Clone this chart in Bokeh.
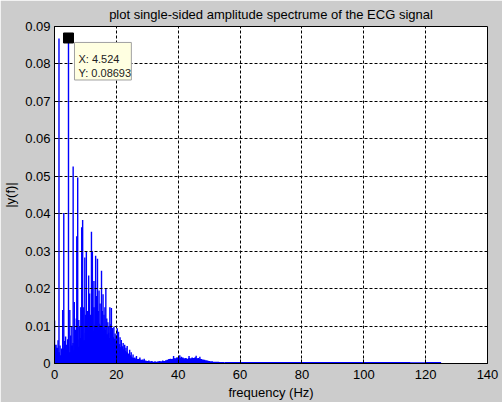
from bokeh.plotting import figure
from bokeh.models import Range1d, FixedTicker, Label, BoxAnnotation, ColumnDataSource
from bokeh.embed import file_html
from bokeh.resources import INLINE

# ---------------- data ----------------
title_text = "plot single-sided amplitude spectrume of the ECG signal"
x_label = "frequency (Hz)"
y_label = "|y(f)|"

x_ticks = [0, 20, 40, 60, 80, 100, 120, 140]
y_ticks = [0.0, 0.01, 0.02, 0.03, 0.04, 0.05, 0.06, 0.07, 0.08, 0.09]
y_tick_labels = ["0", "0.01", "0.02", "0.03", "0.04", "0.05", "0.06", "0.07", "0.08", "0.09"]

# broadband floor of the spectrum, 0.5 Hz bins, 0 .. 55 Hz
floor_freq = [0.0, 0.5, 1.0, 1.5, 2.0, 2.5, 3.0, 3.5, 4.0, 4.5,
              5.0, 5.5, 6.0, 6.5, 7.0, 7.5, 8.0, 8.5, 9.0, 9.5,
              10.0, 10.5, 11.0, 11.5, 12.0, 12.5, 13.0, 13.5, 14.0, 14.5,
              15.0, 15.5, 16.0, 16.5, 17.0, 17.5, 18.0, 18.5, 19.0, 19.5,
              20.0, 20.5, 21.0, 21.5, 22.0, 22.5, 23.0, 23.5, 24.0, 24.5,
              25.0, 25.5, 26.0, 26.5, 27.0, 27.5, 28.0, 28.5, 29.0, 29.5,
              30.0, 30.5, 31.0, 31.5, 32.0, 32.5, 33.0, 33.5, 34.0, 34.5,
              35.0, 35.5, 36.0, 36.5, 37.0, 37.5, 38.0, 38.5, 39.0, 39.5,
              40.0, 40.5, 41.0, 41.5, 42.0, 42.5, 43.0, 43.5, 44.0, 44.5,
              45.0, 45.5, 46.0, 46.5, 47.0, 47.5, 48.0, 48.5, 49.0, 49.5,
              50.0, 50.5, 51.0, 51.5, 52.0, 52.5, 53.0, 53.5, 54.0, 54.5,
              55.0]
floor_amp = [0.0115, 0.0050, 0.0042, 0.0030, 0.0022, 0.0038, 0.0040, 0.0020, 0.0035, 0.0045,
             0.0030, 0.0048, 0.0055, 0.0035, 0.0052, 0.0065, 0.0045, 0.0068, 0.0075, 0.0062,
             0.0082, 0.0088, 0.0072, 0.0092, 0.0098, 0.0088, 0.0102, 0.0108, 0.0092, 0.0106,
             0.0102, 0.0088, 0.0096, 0.0090, 0.0078, 0.0082, 0.0068, 0.0062, 0.0070, 0.0066,
             0.0058, 0.0062, 0.0052, 0.0044, 0.0046, 0.0038, 0.0034, 0.0030, 0.0027, 0.0022,
             0.0018, 0.0015, 0.0016, 0.0013, 0.0012, 0.0013, 0.0010, 0.0011, 0.0009, 0.0008,
             0.0007, 0.0008, 0.0006, 0.0007, 0.0005, 0.0006, 0.0005, 0.0006, 0.0007, 0.0006,
             0.0008, 0.0007, 0.0009, 0.0010, 0.0012, 0.0013, 0.0012, 0.0015, 0.0014, 0.0016,
             0.0017, 0.0015, 0.0018, 0.0016, 0.0014, 0.0015, 0.0013, 0.0015, 0.0014, 0.0016,
             0.0015, 0.0017, 0.0014, 0.0015, 0.0013, 0.0012, 0.0011, 0.0010, 0.0009, 0.0008,
             0.0007, 0.0006, 0.0006, 0.0005, 0.0005, 0.0005, 0.0005, 0.0004, 0.0004, 0.0004,
             0.0004]

# high-frequency tail, 55 .. 125 Hz
tail_freq = [55, 60, 65, 70, 75, 80, 85, 90, 95, 100, 105, 110, 115, 120, 125]
tail_amp = [0.00042, 0.00040, 0.00039, 0.00040, 0.00038, 0.00039, 0.00038, 0.00038,
            0.00037, 0.00038, 0.00037, 0.00037, 0.00036, 0.00037, 0.00036]

# individual spectral lines (heart-rate harmonics and other peaks)
spike_freq = [1.15, 1.45, 1.8, 2.25, 2.65, 3.0, 3.3, 3.6, 3.95, 4.25,
              4.524, 4.95, 5.25, 5.6, 6.03, 6.4, 6.75, 7.05, 7.2, 7.5,
              7.85, 8.15, 8.5, 8.8, 9.1, 9.45, 9.8, 10.05, 10.3, 10.7,
              11.05, 11.35, 11.65, 11.95, 12.25, 12.5, 12.75, 13.05, 13.3, 13.6,
              13.9, 14.15, 14.4, 14.75, 15.2, 15.45, 15.7, 16.0, 16.3, 16.6,
              16.9, 17.25, 17.55, 17.9, 18.15, 18.4, 18.8, 19.2, 19.6, 19.95,
              20.3, 20.7, 21.2, 21.6, 22.2, 22.7, 23.1, 23.5, 24.3, 24.8,
              25.4, 26.5, 27.6, 29.0, 38.5, 40.5, 43.5, 45.8, 47.0]
spike_amp = [0.0062, 0.0868, 0.0048, 0.0040, 0.0143, 0.0402, 0.0060, 0.0072, 0.0050, 0.0065,
             0.08693, 0.0143, 0.0075, 0.0100, 0.0526, 0.0164, 0.0090, 0.0120, 0.0340, 0.0497,
             0.0116, 0.0100, 0.0150, 0.0364, 0.0383, 0.0150, 0.0283, 0.0130, 0.0300, 0.0140,
             0.0235, 0.0187, 0.0130, 0.0352, 0.0300, 0.0150, 0.0220, 0.0150, 0.0288, 0.0180,
             0.0280, 0.0140, 0.0195, 0.0160, 0.0248, 0.0140, 0.0185, 0.0130, 0.0150, 0.0200,
             0.0120, 0.0110, 0.0100, 0.0150, 0.0105, 0.0148, 0.0095, 0.0098, 0.0080, 0.0075,
             0.0094, 0.0085, 0.0070, 0.0063, 0.0055, 0.0050, 0.0042, 0.0047, 0.0037, 0.0030,
             0.0024, 0.0020, 0.0016, 0.0013, 0.0020, 0.0022, 0.0020, 0.0021, 0.0018]

# data tip
tip_x = 4.524
tip_y = 0.08693
tip_lines = ["X: 4.524", "Y: 0.08693"]

# ---------------- figure ----------------
FONT = "Liberation Sans"
BLUE = "#0000FF"
GRAY = "#CCCCCC"

p = figure(width=502, height=402, output_backend="svg", toolbar_location=None,
           x_range=Range1d(0, 140), y_range=Range1d(0, 0.09),
           min_border_left=53, min_border_right=15, min_border_top=23, min_border_bottom=38,
           background_fill_color="white", border_fill_color=GRAY)

p.title.text = title_text
p.title.align = "center"
p.title.text_font = FONT
p.title.text_font_size = "13px"
p.title.text_font_style = "normal"
p.title.text_color = "black"
p.title.standoff = 9
p.title.offset = 0

p.outline_line_color = "black"
p.outline_line_alpha = 1
p.outline_line_width = 1

for ax in (p.xaxis[0], p.yaxis[0]):
    ax.axis_line_color = "black"
    ax.major_tick_in = 4
    ax.major_tick_out = 0
    ax.minor_tick_in = 0
    ax.minor_tick_out = 0
    ax.major_tick_line_color = "black"
    ax.major_label_text_font = FONT
    ax.major_label_text_font_size = "13px"
    ax.major_label_text_color = "black"
    ax.axis_label_text_font = FONT
    ax.axis_label_text_font_size = "13px"
    ax.axis_label_text_font_style = "normal"
    ax.axis_label_text_color = "black"

p.xaxis.ticker = FixedTicker(ticks=x_ticks)
p.yaxis.ticker = FixedTicker(ticks=y_ticks)
p.yaxis.major_label_overrides = {t: l for t, l in zip(y_ticks, y_tick_labels)}
p.xaxis.axis_label = x_label
p.yaxis.axis_label = y_label
p.xaxis.major_label_standoff = 6
p.xaxis.axis_label_standoff = 3
p.yaxis.major_label_standoff = 4
p.yaxis.axis_label_standoff = 4

p.grid.grid_line_color = "black"
p.grid.grid_line_alpha = 1
p.grid.grid_line_dash = "3 2"
p.grid.grid_line_width = 1
p.grid.level = "guide"

# spectrum
p.varea_step(x=floor_freq, y1=[0] * len(floor_amp), y2=floor_amp,
             step_mode="center", fill_color=BLUE, fill_alpha=1)
p.varea_step(x=tail_freq, y1=[0] * len(tail_amp), y2=tail_amp,
             step_mode="after", fill_color=BLUE, fill_alpha=1)
spikes = ColumnDataSource(dict(x=spike_freq, y0=[0] * len(spike_amp), y1=spike_amp))
p.segment(x0="x", y0="y0", x1="x", y1="y1", source=spikes,
          line_color=BLUE, line_width=1.4)

# data tip marker and box
p.scatter([tip_x], [tip_y], marker="square", size=10,
          fill_color="black", line_color="black")

px_per_hz = 434 / 140
px_per_unit = 341 / 0.09
box = BoxAnnotation(left=tip_x + 6 / px_per_hz, right=tip_x + 63 / px_per_hz,
                    top=tip_y - 4.5 / px_per_unit, bottom=tip_y - 42.5 / px_per_unit,
                    fill_color="#FFFFE1", fill_alpha=1,
                    line_color="#A0A0A0", line_width=1, line_alpha=1, level="overlay")
p.add_layout(box)
for i, txt in enumerate(tip_lines):
    p.add_layout(Label(x=tip_x, y=tip_y, x_offset=10, y_offset=-21.5 - 13.5 * i,
                       text=txt, text_font=FONT, text_font_size="11px",
                       text_color="#222222", text_baseline="alphabetic", level="overlay"))

html = file_html(p, INLINE, title="spectrum")
html = html.replace("<body>", '<body style="background-color:#CCCCCC; overflow:hidden;">', 1)
open("out.html", "w").write(html)
